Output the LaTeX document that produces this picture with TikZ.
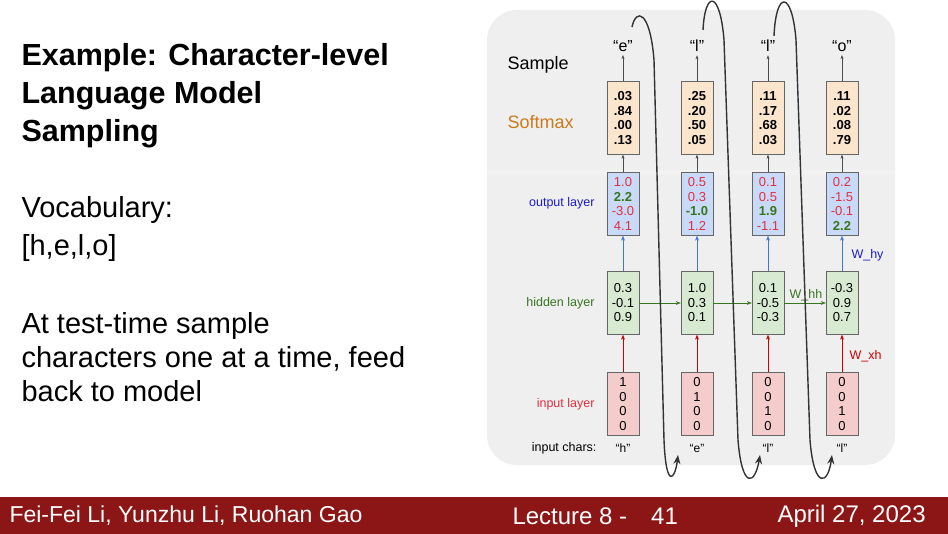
\documentclass[tikz,border=0pt]{standalone}
\usepackage{fontspec}
\setmainfont{Liberation Sans}
\usetikzlibrary{arrows.meta}
\definecolor{panel}{HTML}{EFEFEF}
\definecolor{sbox}{HTML}{FCE5CD}
\definecolor{obox}{HTML}{C9DAF8}
\definecolor{hbox}{HTML}{D9EAD3}
\definecolor{ibox}{HTML}{F4CCCC}
\definecolor{myred}{HTML}{E0303F}
\definecolor{mygreen}{HTML}{38761D}
\definecolor{myblue}{HTML}{1C1CCC}
\definecolor{arrblue}{HTML}{3C78D8}
\definecolor{arrred}{HTML}{CC0000}
\definecolor{orng}{HTML}{CC7A1A}
\definecolor{footer}{HTML}{8C1515}
\tikzset{x=1pt,y=-1pt,
 vbox/.style={draw=gray!80!black,minimum width=32pt,align=center,font=\fontsize{13}{14.5}\selectfont,inner sep=0pt},
 sm/.style={vbox,fill=sbox,minimum height=73pt,font=\bfseries\fontsize{13}{14.5}\selectfont},
 ob/.style={vbox,fill=obox,minimum height=63pt},
 hb/.style={vbox,fill=hbox,minimum height=63pt},
 ib/.style={vbox,fill=ibox,minimum height=63pt},
 ga/.style={-{Stealth[length=4pt]},gray!60!black},
 loop/.style={line width=1.4pt,gray!40!black,-{Stealth[length=9pt,width=7pt]}},
 lbl/.style={font=\fontsize{12.5}{14}\selectfont,anchor=east}}
\begin{document}
\begin{tikzpicture}
\useasboundingbox (0,0) rectangle (948,534);
\fill[white] (0,0) rectangle (948,534);
\fill[panel,rounded corners=30pt] (487,10) rectangle (895,465);
\fill[panel!80!white] (487,170) rectangle (895,175);
% left text
\node[anchor=north west,align=left,font=\bfseries\fontsize{30.5}{38}\selectfont] (title) at (18,40) {Example: Character-level\\Language Model\\Sampling};
\node[anchor=north west,align=left,font=\fontsize{29}{38}\selectfont] (voc) at (18,193) {Vocabulary:\\{}[h,e,l,o]};
\node[anchor=north west,align=left,font=\fontsize{29}{34}\selectfont] (desc) at (18,309) {At test-time sample\\characters one at a time, feed\\back to model};
% footer
\fill[footer] (0,497) rectangle (948,534);
\node[anchor=west,white,font=\fontsize{23}{24}\selectfont] (auth) at (6,516) {Fei-Fei Li, Yunzhu Li, Ruohan Gao};
\node[anchor=west,white,font=\fontsize{24}{24}\selectfont] (lec) at (509,516) {Lecture 8 -\quad 41};
\node[anchor=west,white,font=\fontsize{24}{24}\selectfont] (date) at (774,516) {April 27, 2023};
% row labels
\node[anchor=west,font=\fontsize{18}{20}\selectfont] (samp) at (504,65) {Sample};
\node[anchor=west,orng,font=\fontsize{18}{20}\selectfont] (soft) at (504,122) {Softmax};
\node[lbl,myblue] (ol) at (598,203) {output layer};
\node[lbl,mygreen] (hl) at (598,303) {hidden layer};
\node[lbl,myred] (il) at (598,404) {input layer};
\node[lbl,black] (ic) at (600,448) {input chars:};
% columns
\foreach \i/\x/\ch/\sa/\sb/\sc/\sd/\oa/\ob/\oc/\od/\ha/\hhb/\hc/\ia/\iib/\ic/\id/\inc in {
 1/623/e/.03/.84/.00/.13/{\color{myred}1.0}/{\color{mygreen}\bfseries 2.2}/{\color{myred}-3.0}/{\color{myred}4.1}/0.3/-0.1/0.9/1/0/0/0/h,
 2/697/l/.25/.20/.50/.05/{\color{myred}0.5}/{\color{myred}0.3}/{\color{mygreen}\bfseries -1.0}/{\color{myred}1.2}/1.0/0.3/0.1/0/1/0/0/e,
 3/768/l/.11/.17/.68/.03/{\color{myred}0.1}/{\color{myred}0.5}/{\color{mygreen}\bfseries 1.9}/{\color{myred}-1.1}/0.1/-0.5/-0.3/0/0/1/0/l,
 4/842/o/.11/.02/.08/.79/{\color{myred}0.2}/{\color{myred}-1.5}/{\color{myred}-0.1}/{\color{mygreen}\bfseries 2.2}/-0.3/0.9/0.7/0/0/1/0/l}{
 \node[font=\fontsize{16}{18}\selectfont] (c\i) at (\x,46) {“\ch”};
 \node[sm] (s\i) at (\x,118) {\sa\\\sb\\\sc\\\sd};
 \node[ob] (o\i) at (\x,204) {\oa\\\ob\\\oc\\\od};
 \node[hb] (h\i) at (\x,303) {\ha\\\hhb\\\hc};
 \node[ib] (in\i) at (\x,404) {\ia\\\iib\\\ic\\\id};
 \node[font=\fontsize{12}{13}\selectfont] (x\i) at (\x,448) {“\inc”};
 \draw[ga] (s\i) -- (c\i);
 \draw[ga] (o\i) -- (s\i);
 \draw[-{Stealth[length=5pt]},arrblue] (h\i) -- (o\i);
 \draw[-{Stealth[length=5pt]},arrred] (in\i) -- (h\i);
}
\draw[-{Stealth[length=5pt]},mygreen] (h1) -- (h2);
\draw[-{Stealth[length=5pt]},mygreen] (h2) -- (h3);
\draw[-{Stealth[length=5pt]},mygreen] (h3) -- (h4);
\node[mygreen,font=\fontsize{12.5}{14}\selectfont] (whh) at (806,295) {W\_hh};
\node[myblue,anchor=west,font=\fontsize{12.5}{14}\selectfont] (why) at (848,255) {W\_hy};
\node[arrred,anchor=west,font=\fontsize{12.5}{14}\selectfont] (wxh) at (846,356) {W\_xh};
% feedback loops
\coordinate (a1) at (632,27);
\coordinate (a2) at (703,30);
\coordinate (a3) at (774,36);
\draw[loop] (a1) .. controls (636,8) and (650,10) .. (654,60) -- (664,440) .. controls (666,490) and (675,480) .. (678,455);
\draw[loop] (a2) .. controls (705,-10) and (720,-10) .. (724,40) -- (738,440) .. controls (742,490) and (755,485) .. (760,455);
\draw[loop] (a3) .. controls (776,-10) and (792,-10) .. (796,40) -- (810,440) .. controls (814,490) and (828,485) .. (832,455);
\end{tikzpicture}
\end{document}
